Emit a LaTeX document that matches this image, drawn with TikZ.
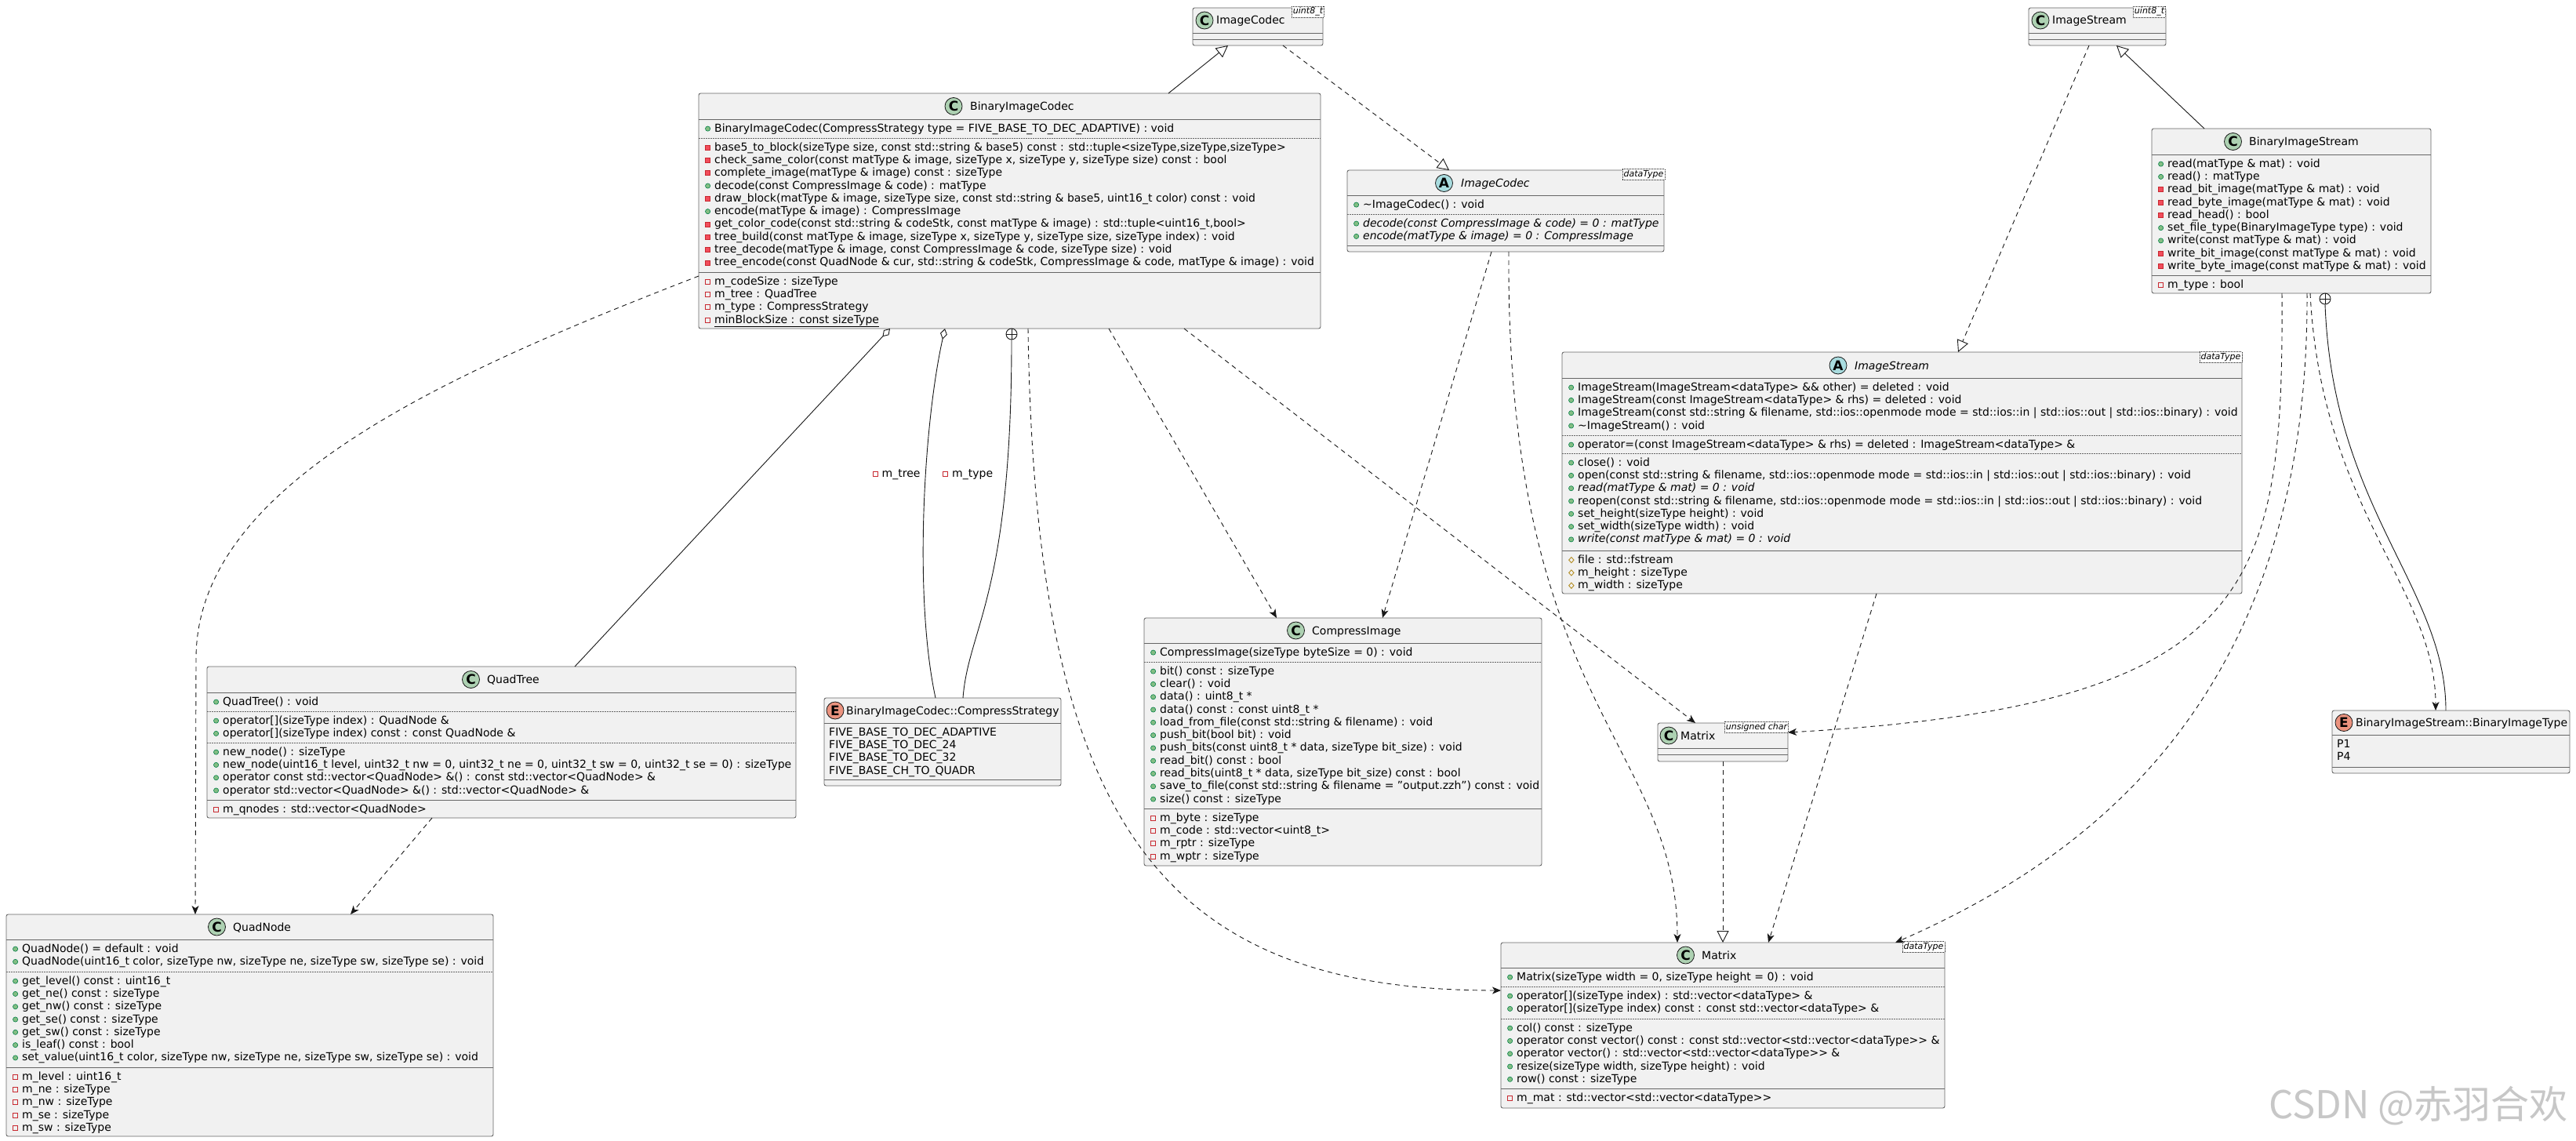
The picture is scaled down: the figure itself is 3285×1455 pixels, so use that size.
\documentclass[tikz,border=0pt]{standalone}
\usepackage{fontspec}
\setmainfont{DejaVu Sans}[ItalicFont={DejaVu Sans Oblique},BoldFont={DejaVu Sans Bold}]
\newfontfamily\cjk{Noto Sans CJK SC}
\usepackage{xcolor}
\usepackage{tikz}
\usetikzlibrary{positioning, arrows.meta, calc}
\definecolor{boxfill}{HTML}{F1F1F1}
\definecolor{edgec}{HTML}{181818}
\definecolor{cgreen}{HTML}{ADD1B2}
\definecolor{caqua}{HTML}{A9DCDF}
\definecolor{cenum}{HTML}{EB937F}
\definecolor{pubfill}{HTML}{84BE84}
\definecolor{pubdraw}{HTML}{038048}
\definecolor{prifill}{HTML}{F24D5C}
\definecolor{pridraw}{HTML}{C82930}
\definecolor{protdraw}{HTML}{B38D22}
\newcommand\mk[1]{\strut\makebox[20pt][l]{\hspace{8pt}#1}}
\newcommand\pub{\mk{\tikz[baseline=-4pt]\filldraw[draw=pubdraw,fill=pubfill,line width=.6pt] (0pt,0pt) circle (3.1pt);}}
\newcommand\pri{\mk{\tikz[baseline=-4pt]\filldraw[draw=pridraw,fill=prifill,line width=.6pt] (-3pt,-3pt) rectangle (3pt,3pt);}}
\newcommand\prf{\mk{\tikz[baseline=-4pt]\draw[draw=pridraw,line width=.9pt] (-3pt,-3pt) rectangle (3pt,3pt);}}
\newcommand\pro{\mk{\tikz[baseline=-4pt]\draw[draw=protdraw,line width=.9pt] (0pt,3.6pt) -- (3.2pt,0pt) -- (0pt,-3.6pt) -- (-3.2pt,0pt) -- cycle;}}

\begin{document}
\begin{tikzpicture}[x=1pt,y=1pt]
    \tikzset{cls/.style={draw=black!60,fill=boxfill,line width=.9pt,rounded corners=2.5pt,anchor=north west,inner sep=0pt,outer sep=0pt},
      memb/.style={anchor=north west,align=left,inner sep=0pt,font=\fontsize{14}{16.3}\selectfont},
      ttl/.style={anchor=base west,inner sep=0pt,font=\fontsize{14}{16.3}\selectfont},
      ico/.style={circle,draw=edgec,line width=.8pt,minimum size=22pt,inner sep=0pt,font=\bfseries\fontsize{17}{17}\selectfont},
      tmpl/.style={draw=edgec,dash pattern=on 1pt off 1pt,fill=white,inner sep=1.5pt,font=\itshape\fontsize{11}{11}\selectfont},
      sep/.style={draw=black!60,line width=.9pt}, dsep/.style={draw=black!60,line width=.6pt,dash pattern=on 1.5pt off 1.5pt},
      dep/.style={draw=edgec,line width=.9pt,dash pattern=on 6pt off 5pt,-{Stealth[length=11pt,width=9pt,inset=3pt]}},
      ext/.style={draw=edgec,line width=.9pt,-{Triangle[open,length=15pt,width=15pt,fill=white]}},
      real/.style={ext,dash pattern=on 6pt off 5pt},
      agg/.style={draw=edgec,line width=.9pt,{Diamond[open,length=14pt,width=9pt,fill=white]}-},
      own/.style={draw=edgec,line width=.9pt},
      nest/.style={circle,draw=edgec,fill=white,line width=.9pt,minimum size=14pt,inner sep=0pt,
        path picture={\draw[line width=.9pt] (path picture bounding box.north) -- (path picture bounding box.south) (path picture bounding box.west) -- (path picture bounding box.east);}}}
    \fill[white] (0,0) rectangle (3285,-1455);
    \useasboundingbox (0,0) rectangle (3285,-1455);

    % ImageCodec<uint8_t>
    \node[cls,minimum width=166pt,minimum height=48pt] (icu) at (1521,-10) {};
    \node[ico,fill=cgreen] (icu-c) at (1536,-26) {C};
    \node[ttl] (icu-t) at (1551,-31) {ImageCodec};
    \draw[sep] (1521,-42) -- (1687,-42) (1521,-50) -- (1687,-50);
    \node[tmpl] (icu-g) at (1668,-15) {uint8\_t};

    % ImageStream<uint8_t>
    \node[cls,minimum width=175pt,minimum height=48pt] (isu) at (2587,-10) {};
    \node[ico,fill=cgreen] (isu-c) at (2602,-26) {C};
    \node[ttl] (isu-t) at (2617,-31) {ImageStream};
    \draw[sep] (2587,-42) -- (2762,-42) (2587,-50) -- (2762,-50);
    \node[tmpl] (isu-g) at (2741,-15) {uint8\_t};

    % BinaryImageCodec
    \node[cls,minimum width=793pt,minimum height=300pt] (bic) at (891,-119) {};
    \node[ico,fill=cgreen] (bic-c) at (1216,-135.5) {C};
    \node[ttl] (bic-t) at (1237,-140.5) {BinaryImageCodec};
    \draw[sep] (891,-152) -- (1684,-152) (891,-347) -- (1684,-347);
    \draw[dsep] (891,-176) -- (1684,-176);
    \node[memb] (bic-1) at (891,-156.5) {\pub BinaryImageCodec(CompressStrategy type = FIVE\_BASE\_TO\_DEC\_ADAPTIVE) : void};
    \node[memb] (bic-2) at (891,-180.5) {\pri base5\_to\_block(sizeType size, const std::string \& base5) const : std::tuple<sizeType,sizeType,sizeType>\\
      \pri check\_same\_color(const matType \& image, sizeType x, sizeType y, sizeType size) const : bool\\
      \pri complete\_image(matType \& image) const : sizeType\\
      \pub decode(const CompressImage \& code) : matType\\
      \pri draw\_block(matType \& image, sizeType size, const std::string \& base5, uint16\_t color) const : void\\
      \pub encode(matType \& image) : CompressImage\\
      \pri get\_color\_code(const std::string \& codeStk, const matType \& image) : std::tuple<uint16\_t,bool>\\
      \pri tree\_build(const matType \& image, sizeType x, sizeType y, sizeType size, sizeType index) : void\\
      \pri tree\_decode(matType \& image, const CompressImage \& code, sizeType size) : void\\
      \pri tree\_encode(const QuadNode \& cur, std::string \& codeStk, CompressImage \& code, matType \& image) : void};
    \node[memb] (bic-3) at (891,-351.5) {\prf m\_codeSize : sizeType\\ \prf m\_tree : QuadTree\\ \prf m\_type : CompressStrategy\\ \prf \underline{minBlockSize : const sizeType}};

    % ImageCodec<dataType>
    \node[cls,minimum width=404pt,minimum height=104pt] (icd) at (1718,-217) {};
    \node[ico,fill=caqua] (icd-c) at (1841.5,-233.5) {A};
    \node[ttl] (icd-t) at (1863,-238.5) {\itshape ImageCodec};
    \draw[sep] (1718,-249) -- (2122,-249) (1718,-313) -- (2122,-313);
    \draw[dsep] (1718,-273) -- (2122,-273);
    \node[memb] (icd-1) at (1718,-253.5) {\pub \textasciitilde ImageCodec() : void};
    \node[memb] (icd-2) at (1718,-277.5) {\pub \textit{decode(const CompressImage \& code) = 0 : matType}\\ \pub \textit{encode(matType \& image) = 0 : CompressImage}};
    \node[tmpl] (icd-g) at (2096,-222) {dataType};

    % ImageStream<dataType>
    \node[cls,minimum width=867pt,minimum height=308pt] (isd) at (1992,-449) {};
    \node[ico,fill=caqua] (isd-c) at (2344,-466) {A};
    \node[ttl] (isd-t) at (2365,-471) {\itshape ImageStream};
    \draw[sep] (1992,-482) -- (2859,-482) (1992,-702) -- (2859,-702);
    \draw[dsep] (1992,-555) -- (2859,-555) (1992,-578) -- (2859,-578);
    \node[memb] (isd-1) at (1992,-486.5) {\pub ImageStream(ImageStream<dataType> \&\& other) = deleted : void\\
      \pub ImageStream(const ImageStream<dataType> \& rhs) = deleted : void\\
      \pub ImageStream(const std::string \& filename, std::ios::openmode mode = std::ios::in | std::ios::out | std::ios::binary) : void\\
      \pub \textasciitilde ImageStream() : void};
    \node[memb] (isd-2) at (1992,-559.5) {\pub operator=(const ImageStream<dataType> \& rhs) = deleted : ImageStream<dataType> \&};
    \node[memb] (isd-3) at (1992,-582.5) {\pub close() : void\\
      \pub open(const std::string \& filename, std::ios::openmode mode = std::ios::in | std::ios::out | std::ios::binary) : void\\
      \pub \textit{read(matType \& mat) = 0 : void}\\
      \pub reopen(const std::string \& filename, std::ios::openmode mode = std::ios::in | std::ios::out | std::ios::binary) : void\\
      \pub set\_height(sizeType height) : void\\
      \pub set\_width(sizeType width) : void\\
      \pub \textit{write(const matType \& mat) = 0 : void}};
    \node[memb] (isd-4) at (1992,-706.5) {\pro file : std::fstream\\ \pro m\_height : sizeType\\ \pro m\_width : sizeType};
    \node[tmpl] (isd-g) at (2832,-455) {dataType};

    % BinaryImageStream
    \node[cls,minimum width=356pt,minimum height=210pt] (bis) at (2744,-164) {};
    \node[ico,fill=cgreen] (bis-c) at (2847.5,-180.5) {C};
    \node[ttl] (bis-t) at (2868,-185.5) {BinaryImageStream};
    \draw[sep] (2744,-197) -- (3100,-197) (2744,-351) -- (3100,-351);
    \node[memb] (bis-1) at (2744,-201.5) {\pub read(matType \& mat) : void\\ \pub read() : matType\\
      \pri read\_bit\_image(matType \& mat) : void\\ \pri read\_byte\_image(matType \& mat) : void\\
      \pri read\_head() : bool\\ \pub set\_file\_type(BinaryImageType type) : void\\
      \pub write(const matType \& mat) : void\\ \pri write\_bit\_image(const matType \& mat) : void\\
      \pri write\_byte\_image(const matType \& mat) : void};
    \node[memb] (bis-2) at (2744,-355.5) {\prf m\_type : bool};

    % QuadTree
    \node[cls,minimum width=751pt,minimum height=193pt] (qt) at (264,-850) {};
    \node[ico,fill=cgreen] (qt-c) at (600.5,-866.5) {C};
    \node[ttl] (qt-t) at (621,-871.5) {QuadTree};
    \draw[sep] (264,-883) -- (1015,-883) (264,-1020) -- (1015,-1020);
    \draw[dsep] (264,-907) -- (1015,-907) (264,-947) -- (1015,-947);
    \node[memb] (qt-1) at (264,-887.5) {\pub QuadTree() : void};
    \node[memb] (qt-2) at (264,-911.5) {\pub operator[](sizeType index) : QuadNode \&\\ \pub operator[](sizeType index) const : const QuadNode \&};
    \node[memb] (qt-3) at (264,-951.5) {\pub new\_node() : sizeType\\
      \pub new\_node(uint16\_t level, uint32\_t nw = 0, uint32\_t ne = 0, uint32\_t sw = 0, uint32\_t se = 0) : sizeType\\
      \pub operator const std::vector<QuadNode> \&() : const std::vector<QuadNode> \&\\
      \pub operator std::vector<QuadNode> \&() : std::vector<QuadNode> \&};
    \node[memb] (qt-4) at (264,-1024.5) {\prf m\_qnodes : std::vector<QuadNode>};

    % BinaryImageCodec::CompressStrategy
    \node[cls,minimum width=302pt,minimum height=112pt] (cs) at (1051,-890) {};
    \node[ico,fill=cenum] (cs-c) at (1065,-906) {E};
    \node[ttl] (cs-t) at (1079,-911) {BinaryImageCodec::CompressStrategy};
    \draw[sep] (1051,-922) -- (1353,-922) (1051,-994) -- (1353,-994);
    \node[memb] (cs-1) at (1057,-926.5) {\strut FIVE\_BASE\_TO\_DEC\_ADAPTIVE\\ \strut FIVE\_BASE\_TO\_DEC\_24\\ \strut FIVE\_BASE\_TO\_DEC\_32\\ \strut FIVE\_BASE\_CH\_TO\_QUADR};

    % CompressImage
    \node[cls,minimum width=507pt,minimum height=316pt] (ci) at (1459,-788) {};
    \node[ico,fill=cgreen] (ci-c) at (1652.5,-804) {C};
    \node[ttl] (ci-t) at (1673,-809) {CompressImage};
    \draw[sep] (1459,-820) -- (1966,-820) (1459,-1031) -- (1966,-1031);
    \draw[dsep] (1459,-844) -- (1966,-844);
    \node[memb] (ci-1) at (1459,-824.5) {\pub CompressImage(sizeType byteSize = 0) : void};
    \node[memb] (ci-2) at (1459,-848.5) {\pub bit() const : sizeType\\ \pub clear() : void\\ \pub data() : uint8\_t *\\
      \pub data() const : const uint8\_t *\\ \pub load\_from\_file(const std::string \& filename) : void\\
      \pub push\_bit(bool bit) : void\\ \pub push\_bits(const uint8\_t * data, sizeType bit\_size) : void\\
      \pub read\_bit() const : bool\\ \pub read\_bits(uint8\_t * data, sizeType bit\_size) const : bool\\
      \pub save\_to\_file(const std::string \& filename = "output.zzh") const : void\\ \pub size() const : sizeType};
    \node[memb] (ci-3) at (1459,-1035.5) {\prf m\_byte : sizeType\\ \prf m\_code : std::vector<uint8\_t>\\ \prf m\_rptr : sizeType\\ \prf m\_wptr : sizeType};

    % QuadNode
    \node[cls,minimum width=621pt,minimum height=283pt] (qn) at (8,-1166) {};
    \node[ico,fill=cgreen] (qn-c) at (276.5,-1182) {C};
    \node[ttl] (qn-t) at (297,-1187) {QuadNode};
    \draw[sep] (8,-1198) -- (629,-1198) (8,-1361) -- (629,-1361);
    \draw[dsep] (8,-1239) -- (629,-1239);
    \node[memb] (qn-1) at (8,-1202.5) {\pub QuadNode() = default : void\\ \pub QuadNode(uint16\_t color, sizeType nw, sizeType ne, sizeType sw, sizeType se) : void};
    \node[memb] (qn-2) at (8,-1243.5) {\pub get\_level() const : uint16\_t\\ \pub get\_ne() const : sizeType\\ \pub get\_nw() const : sizeType\\
      \pub get\_se() const : sizeType\\ \pub get\_sw() const : sizeType\\ \pub is\_leaf() const : bool\\
      \pub set\_value(uint16\_t color, sizeType nw, sizeType ne, sizeType sw, sizeType se) : void};
    \node[memb] (qn-3) at (8,-1365.5) {\prf m\_level : uint16\_t\\ \prf m\_ne : sizeType\\ \prf m\_nw : sizeType\\ \prf m\_se : sizeType\\ \prf m\_sw : sizeType};

    % Matrix<dataType>
    \node[cls,minimum width=566pt,minimum height=211pt] (md) at (1914,-1202) {};
    \node[ico,fill=cgreen] (md-c) at (2149.5,-1218) {C};
    \node[ttl] (md-t) at (2170,-1223) {Matrix};
    \draw[sep] (1914,-1234) -- (2480,-1234) (1914,-1388) -- (2480,-1388);
    \draw[dsep] (1914,-1258) -- (2480,-1258) (1914,-1299) -- (2480,-1299);
    \node[memb] (md-1) at (1914,-1238.5) {\pub Matrix(sizeType width = 0, sizeType height = 0) : void};
    \node[memb] (md-2) at (1914,-1262.5) {\pub operator[](sizeType index) : std::vector<dataType> \&\\ \pub operator[](sizeType index) const : const std::vector<dataType> \&};
    \node[memb] (md-3) at (1914,-1303.5) {\pub col() const : sizeType\\
      \pub operator const vector() const : const std::vector<std::vector<dataType>{}> \&\\
      \pub operator vector() : std::vector<std::vector<dataType>{}> \&\\
      \pub resize(sizeType width, sizeType height) : void\\ \pub row() const : sizeType};
    \node[memb] (md-4) at (1914,-1392.5) {\prf m\_mat : std::vector<std::vector<dataType>{}>};
    \node[tmpl] (md-g) at (2453,-1207) {dataType};

    % Matrix<unsigned char>
    \node[cls,minimum width=166pt,minimum height=49pt] (muc) at (2114,-922) {};
    \node[ico,fill=cgreen] (muc-c) at (2128,-938) {C};
    \node[ttl] (muc-t) at (2143,-943) {Matrix};
    \draw[sep] (2114,-954) -- (2280,-954) (2114,-962) -- (2280,-962);
    \node[tmpl] (muc-g) at (2240,-927) {unsigned char};

    % BinaryImageStream::BinaryImageType
    \node[cls,minimum width=303pt,minimum height=80pt] (bit) at (2974,-906) {};
    \node[ico,fill=cenum] (bit-c) at (2989,-921.5) {E};
    \node[ttl] (bit-t) at (3004,-926.5) {BinaryImageStream::BinaryImageType};
    \draw[sep] (2974,-937) -- (3277,-937) (2974,-978) -- (3277,-978);
    \node[memb] (bit-1) at (2980,-941.5) {\strut P1\\ \strut P4};

    % labels
    \node[memb] (lbl-tree) at (1104.5,-596.5) {\prf m\_tree};
    \node[memb] (lbl-type) at (1194,-596.5) {\prf m\_type};
    \node[nest] (bic-n) at (1290,-426) {};
    \node[nest] (bis-n) at (2965,-381) {};

    % connectors
    \draw[ext] ([xshift=599pt]bic.north west) -- ([xshift=45pt]icu.south west);
    \draw[real] ([xshift=115pt]icu.south west) -- ([xshift=130pt]icd.north west);
    \draw[ext] ([xshift=67pt]bis.north west) -- ([xshift=112pt]isu.south west);
    \draw[real] ([xshift=77pt]isu.south west) -- ([xshift=505pt]isd.north west);
    \draw[dep] ([yshift=-233pt]bic.north west) .. controls (560,-480) and (250,-620) .. (250,-840) -- ([xshift=241pt]qn.north west);
    \draw[agg] ([xshift=244pt]bic.south west) -- ([xshift=469pt]qt.north west);
    \draw[agg] ([xshift=314pt]bic.south west) .. controls (1178,-540) and (1165,-760) .. ([xshift=142pt]cs.north west);
    \draw[own] (bic-n.south) .. controls (1290,-760) and (1235,-800) .. ([xshift=177pt]cs.north west);
    \draw[dep] ([xshift=420pt]bic.south west) .. controls (1320,-1050) and (1480,-1263) .. ([yshift=-61pt]md.north west);
    \draw[dep] ([xshift=523pt]bic.south west) -- ([xshift=169pt]ci.north west);
    \draw[dep] ([xshift=619pt]bic.south west) -- ([xshift=48pt]muc.north west);
    \draw[dep] ([xshift=184pt]icd.south west) -- ([xshift=304pt]ci.north west);
    \draw[dep] ([xshift=206pt]icd.south west) .. controls (1920,-900) and (2139,-950) .. ([xshift=225pt]md.north west);
    \draw[dep] ([xshift=401pt]isd.south west) -- ([xshift=341pt]md.north west);
    \draw[real] (muc.south) -- ([xshift=283pt]md.north west);
    \draw[dep] ([xshift=166pt]bis.south west) .. controls (2912,-750) and (2880,-900) .. ([yshift=-12pt]muc.north east);
    \draw[dep] ([xshift=198pt]bis.south west) .. controls (2945,-900) and (2650,-1100) .. ([xshift=503pt]md.north west);
    \draw[dep] ([xshift=202pt]bis.south west) .. controls (2960,-650) and (3106,-750) .. ([xshift=132pt]bit.north west);
    \draw[own] (bis-n.south) .. controls (2975,-650) and (3119,-750) .. ([xshift=145pt]bit.north west);
    \draw[dep] ([xshift=287pt]qt.south west) -- ([xshift=439pt]qn.north west);

    \node[anchor=east,text=black!22,inner sep=0pt,font=\cjk\fontsize{49}{49}\selectfont] (csdn) at (3275,-1410) {CSDN @赤羽合欢};
\end{tikzpicture}
\end{document}
